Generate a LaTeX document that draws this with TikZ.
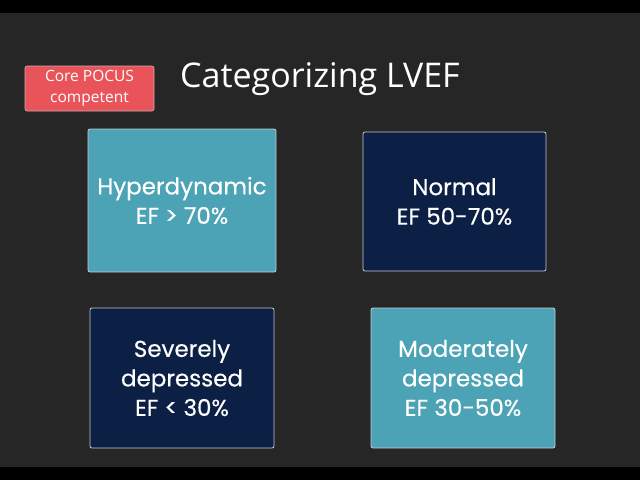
\documentclass[tikz,border=0pt]{standalone}
\usepackage{fontspec}
\setmainfont{Open Sans}
\newfontfamily\boxfont[FakeBold=0.4]{Poppins}
\usetikzlibrary{positioning}
\definecolor{slidebg}{RGB}{38, 38, 38}
\definecolor{teal}{RGB}{75, 163, 181}
\definecolor{navy}{RGB}{12, 31, 68}
\definecolor{badge}{RGB}{232, 84, 90}
\definecolor{edge}{RGB}{196, 204, 212}
\tikzset{
    efbox/.style={rectangle, rounded corners=2pt, draw=edge, line width=0.8pt, align=center, text=white, font=\boxfont\fontsize{23}{29.5}\selectfont, inner sep=0pt},
    tealbox/.style={efbox, fill=teal},
    navybox/.style={efbox, fill=navy},
    tag/.style={rectangle, rounded corners=2pt, draw=edge!70!badge, line width=0.6pt, fill=badge, align=center, text=white, font=\fontsize{15.5}{21}\selectfont, inner sep=0pt}
}

\begin{document}
\begin{tikzpicture}[x=1pt, y=-1pt]
        \fill[black] (0,0) rectangle (640,480);
        \fill[slidebg] (0,13) rectangle (640,467);
        \useasboundingbox (0,0) rectangle (640,480);

        \node[tag, minimum width=129pt, minimum height=45pt] (core) at (89.5,88.5) {Core POCUS\\competent};
        \node[anchor=west, text=white, font=\fontsize{34}{38}\selectfont, inner sep=0pt] (title) at (180,79) {Categorizing LVEF};

        \node[tealbox, minimum width=188pt, minimum height=143pt] (hyper) at (182,200.5) {Hyperdynamic\\EF > 70\%};
        \node[navybox, minimum width=183pt, minimum height=139pt] (normal) at (454.5,201.5) {Normal\\EF 50-70\%};
        \node[navybox, minimum width=184pt, minimum height=140pt] (severe) at (182,378) {Severely\\depressed\\EF < 30\%};
        \node[tealbox, minimum width=184pt, minimum height=140pt] (moderate) at (463,378) {Moderately\\depressed\\EF 30-50\%};
    \end{tikzpicture}
\end{document}
